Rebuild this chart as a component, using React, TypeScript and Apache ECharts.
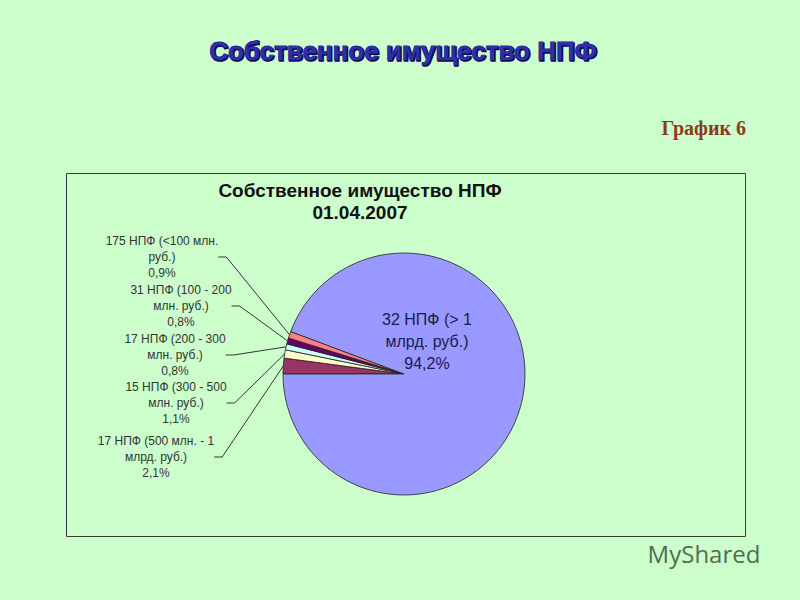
import React, { useEffect, useRef } from "react";
import * as echarts from "echarts";

// Data, ordered clockwise starting from the 9 o'clock direction
const sliceLabels = [
  "17 НПФ (500 млн. - 1\nмлрд. руб.)",
  "15 НПФ (300 - 500\nмлн. руб.)",
  "17 НПФ (200 - 300\nмлн. руб.)",
  "31 НПФ (100 - 200\nмлн. руб.)",
  "175 НПФ (<100 млн.\nруб.)",
  "32 НПФ (> 1\nмлрд. руб.)",
];
const shareValues = [2.1, 1.1, 0.8, 0.8, 0.9, 94.2];
const sliceColors = ["#993366", "#ffffcc", "#ccffff", "#660066", "#ff8080", "#9999ff"];

const pageTitle = "Собственное имущество НПФ";
const chartTitle = "Собственное имущество НПФ\n01.04.2007";
const chartTag = "График 6";

// Label placement (pixel positions of label centres)
const labelPos = [
  [156, 457],
  [176, 403],
  [175, 355],
  [181, 306],
  [162, 257],
  [427, 341],
];

const fmt = (v: number) => v.toFixed(1).replace(".", ",") + "%";

export default function App() {
  const ref = useRef<HTMLDivElement>(null);
  useEffect(() => {
    if (!ref.current) return;
    const chart = echarts.init(ref.current, undefined, { renderer: "svg" });
    const bigIdx = shareValues.length - 1;
    const titleFont = "bold 26px 'Liberation Sans', Arial, sans-serif";
    chart.setOption({
      animation: false,
      backgroundColor: "#ccffcc",
      graphic: [
        {
          type: "rect",
          shape: { x: 66.5, y: 173.5, width: 679, height: 363 },
          style: { fill: "#ccffcc", stroke: "#3a3a3a", lineWidth: 1 },
          z: -1,
        },
        {
          type: "text",
          x: 404,
          y: 52,
          style: {
            text: pageTitle,
            font: titleFont,
            fill: "#0a0a50",
            align: "center",
            verticalAlign: "middle",
            stroke: "#0a0a50",
            lineWidth: 1.5,
          },
        },
        {
          type: "text",
          x: 403,
          y: 51,
          style: {
            text: pageTitle,
            font: titleFont,
            fill: "#2e2eaa",
            align: "center",
            verticalAlign: "middle",
            stroke: "#1c1c80",
            lineWidth: 0.8,
          },
        },
        {
          type: "text",
          x: 746,
          y: 128,
          style: {
            text: chartTag,
            font: "bold 20px 'Liberation Serif', 'Times New Roman', serif",
            fill: "#8b3a1e",
            align: "right",
            verticalAlign: "middle",
          },
        },
        {
          type: "text",
          x: 360,
          y: 201,
          style: {
            text: chartTitle,
            font: "bold 19px 'Liberation Sans', Arial, sans-serif",
            lineHeight: 22,
            fill: "#111",
            align: "center",
            verticalAlign: "middle",
          },
        },
        {
          type: "text",
          x: 704,
          y: 553,
          style: {
            text: "MyShared",
            font: "24px 'Open Sans', 'Noto Sans', sans-serif",
            fill: "#4f6f4f",
            align: "center",
            verticalAlign: "middle",
          },
        },
      ],
      series: [
        {
          type: "pie",
          center: [404, 374],
          radius: 121,
          startAngle: 180,
          clockwise: true,
          avoidLabelOverlap: false,
          itemStyle: { borderColor: "#222", borderWidth: 0.8 },
          label: {
            show: true,
            position: "outside",
            formatter: (p: any) => p.name + "\n" + fmt(p.value),
            fontFamily: "'Liberation Sans', Arial, sans-serif",
            fontSize: 12,
            lineHeight: 16,
            color: "#333",
            align: "center",
          },
          labelLine: {
            show: true,
            length: 10,
            length2: 8,
            lineStyle: { color: "#333", width: 1 },
          },
          labelLayout: (params: any) => {
            const pos = labelPos[params.dataIndex];
            return {
              x: pos[0],
              y: pos[1],
              align: "center",
              verticalAlign: "middle",
            };
          },
          data: shareValues.map((v, i) => {
            const item: any = {
              name: sliceLabels[i],
              value: v,
              itemStyle: { color: sliceColors[i] },
            };
            if (i === bigIdx) {
              item.label = {
                fontSize: 16,
                lineHeight: 22,
                color: "#1a1a50",
              };
              item.labelLine = { show: false };
            }
            return item;
          }),
        },
      ],
    });
    return () => chart.dispose();
  }, []);
  return (
    <div
      ref={ref}
      style={{ position: "absolute", left: 0, top: 0, width: 800, height: 600 }}
    />
  );
}
